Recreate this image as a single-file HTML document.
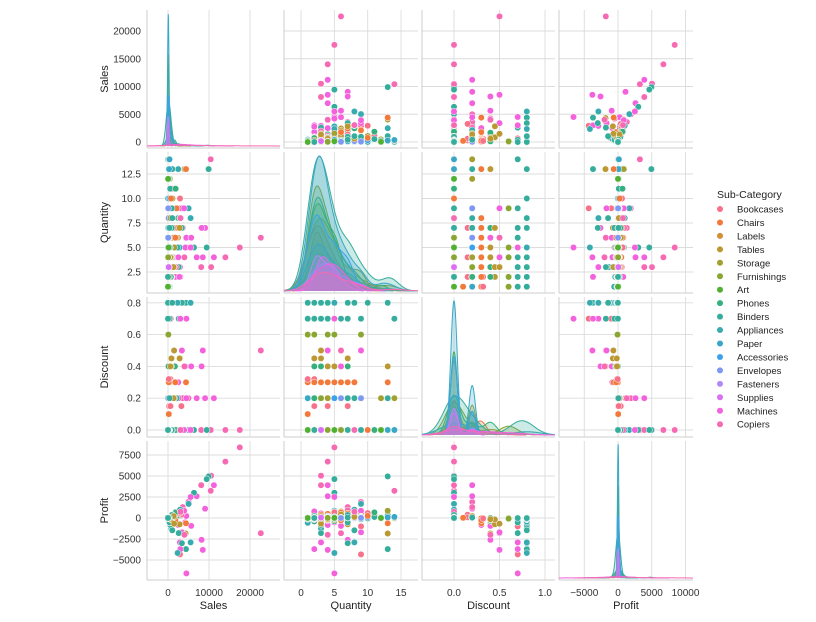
<!DOCTYPE html>
<html><head><meta charset="utf-8"><style>
html,body{margin:0;padding:0;background:#fff;}
svg{display:block;font-family:"Liberation Sans",Arial,sans-serif;}
</style></head><body>
<svg id="s" width="816" height="622" viewBox="0 0 816 622" xmlns="http://www.w3.org/2000/svg"></svg>
<script>
(function(){
var S=document.getElementById('s');var out=[];
function a(x){out.push(x);}
var seed=12345;function R(){seed|=0;seed=seed+0x6D2B79F5|0;var t=Math.imul(seed^seed>>>15,1|seed);t=t+Math.imul(t^t>>>7,61|t)^t;return((t^t>>>14)>>>0)/4294967296;}
var cats=["Bookcases","Chairs","Labels","Tables","Storage","Furnishings","Art","Phones","Binders","Appliances","Paper","Accessories","Envelopes","Fasteners","Supplies","Machines","Copiers"];
var cols=["#f77189","#f3793b","#d58c32","#bb9832","#a39f31","#88a631","#4fb031","#34b07c","#35ad9c","#37abb0","#39a8c6","#3ba3ec","#7f98f4","#b18bf4","#dc6ef4","#f461dd","#f66ab4"];
var counts=[228,617,364,319,846,957,796,889,1523,466,1370,775,254,217,190,115,68];
var price=[[50,500],[50,400],[3,30],[60,500],[10,400],[5,100],[2,40],[20,400],[2,250],[10,600],[5,40],[10,300],[5,50],[1,10],[5,100],[50,1500],[200,1500]];
var disc=[[0,.15,.2,.32,.5,.7],[0,.1,.2,.3],[0,.2],[0,.2,.3,.4,.45,.5],[0,.2],[0,.2,.6],[0,.2],[0,.2,.4],[0,.2,.7,.8],[0,.2,.8],[0,.2],[0,.2],[0,.2],[0,.2],[0,.2],[0,.2,.3,.4,.5,.7],[0,.2,.4]];
var qw=[0,.09,.24,.24,.12,.12,.06,.06,.025,.025,.008,.006,.004,.004,.004];
function rq(){var r=R()*1.01,s=0;for(var i=1;i<15;i++){s+=qw[i];if(r<s)return i;}return 3;}
var D=[];
for(var c=0;c<17;c++){var n=Math.round(counts[c]/14)+6;
 for(var i=0;i<n;i++){var q=rq();var p=Math.exp(Math.log(price[c][0])+R()*Math.log(price[c][1]/price[c][0]));
  var ds=disc[c];var d=R()<0.5?ds[0]:ds[Math.floor(R()*ds.length)];
  var s=p*q;var m;
  if(d==0)m=0.2+0.2*R();else if(d<=0.2)m=0.05+0.15*R();else if(d<0.5)m=-0.05-0.3*R();else if(d<0.65)m=-0.4-0.3*R();else m=-1.2-0.6*R();
  var pf=s*m;if(c==6)pf=pf*0.15;
  D.push([c,s,q,d,pf]);}}
var ex=[[16,22638,6,.5,-1811],[16,17500,5,0,8400],[16,14000,4,0,6720],[15,11200,4,.2,3900],[16,10500,3,0,5040],[8,9900,13,0,4950],[8,9450,5,0,4630],[15,8500,4,.5,-3800],[15,8200,7,.4,-2600],[16,8100,3,0,3900],[15,7000,4,.2,2600],[15,4500,5,.7,-6600],[16,4000,4,.4,-2000],[15,5500,5,0,2500],[8,6350,5,0,3000],[8,4400,13,.8,-3700],[8,3400,7,.8,-3000],[16,5000,9,.2,1900],[15,3400,9,.5,-1700],[16,3600,7,.2,1300],[9,5500,8,.8,-2900],[8,2600,3,.7,-1800],[1,4400,13,.3,-630],[3,4300,13,.4,-1850],[15,2900,3,.7,-2900],[15,3000,2,.7,-3700]];
ex.forEach(function(e){D.push(e);});
for(var i=D.length-1;i>0;i--){var j=Math.floor(R()*(i+1));var t=D[i];D[i]=D[j];D[j]=t;}
var KS=[0.0041,6.67,91,0.00675];
var xm=[function(v){return 168+v*0.0041},function(v){return 301+v*6.67},function(v){return 454+v*91},function(v){return 618+v*0.00675}];
var ym=[function(v){return 142-v*0.00555},function(v){return 296.5-v*9.8},function(v){return 430-v*159},function(v){return 518-v*0.0084}];
var PX=[[147,280],[284,418],[422,555],[559,693]],PY=[[10,148],[152,293],[297,437],[441,580]];
var xt=[[0,10000,20000],[0,5,10,15],[0,.5,1],[-5000,0,5000,10000]];
var xl=[["0","10000","20000"],["0","5","10","15"],["0.0","0.5","1.0"],["\u22125000","0","5000","10000"]];
var yt=[[0,5000,10000,15000,20000],[2.5,5,7.5,10,12.5],[0,.2,.4,.6,.8],[-5000,-2500,0,2500,5000,7500]];
var yl=[["0","5000","10000","15000","20000"],["2.5","5.0","7.5","10.0","12.5"],["0.0","0.2","0.4","0.6","0.8"],["\u22125000","\u22122500","0","2500","5000","7500"]];
var names=["Sales","Quantity","Discount","Profit"];
for(var r=0;r<4;r++)for(var c=0;c<4;c++){
 var x0=PX[c][0],x1=PX[c][1],y0=PY[r][0],y1=PY[r][1];
 a('<clipPath id="c'+r+c+'"><rect x="'+x0+'" y="'+y0+'" width="'+(x1-x0)+'" height="'+(y1-y0)+'"/></clipPath>');
 xt[c].forEach(function(v){var x=xm[c](v);a('<line x1="'+x+'" x2="'+x+'" y1="'+y0+'" y2="'+y1+'" stroke="#dcdcdc" stroke-width="0.9"/>');});
 if(r!=c)yt[r].forEach(function(v){var y=ym[r](v);a('<line x1="'+x0+'" x2="'+x1+'" y1="'+y+'" y2="'+y+'" stroke="#dcdcdc" stroke-width="0.9"/>');});
 a('<line x1="'+x0+'" x2="'+x0+'" y1="'+y0+'" y2="'+y1+'" stroke="#ccc" stroke-width="1"/>');
 a('<line x1="'+x0+'" x2="'+x1+'" y1="'+y1+'" y2="'+y1+'" stroke="#ccc" stroke-width="1"/>');
 if(r!=c){a('<g clip-path="url(#c'+r+c+')">');
  D.forEach(function(d){a('<circle cx="'+xm[c](d[c+1]).toFixed(1)+'" cy="'+ym[r](d[r+1]).toFixed(1)+'" r="3.2" fill="'+cols[d[0]]+'" stroke="#fff" stroke-width="0.5"/>');});
  a('</g>');}
 else{
  var vs=[];for(var k=0;k<17;k++)vs.push([]);D.forEach(function(d){vs[d[0]].push(d[c+1]);});
  var Nt=D.length;var curves=[];var mx=0;
  for(var k=0;k<17;k++){var v=vs[k],n=v.length;var mu=0;v.forEach(function(z){mu+=z});mu/=n;var sd=0;v.forEach(function(z){sd+=(z-mu)*(z-mu)});sd=Math.sqrt(sd/(n-1))||1e-6;
   var bw=Math.max(sd*Math.pow(n,-0.2),0.7/KS[c]);var lo=Math.min.apply(null,v)-3*bw,hi=Math.max.apply(null,v)+3*bw;
   var pts=[];for(var px=x0;px<=x1;px+=0.25){var inv;
    if(c==0)inv=(px-168)/0.0041;else if(c==1)inv=(px-301)/6.67;else if(c==2)inv=(px-454)/91;else inv=(px-618)/0.00675;
    if(inv<lo||inv>hi)continue;var s=0;v.forEach(function(z){var u=(inv-z)/bw;s+=Math.exp(-0.5*u*u);});
    var dens=s/(Nt*bw*2.5066);pts.push([px,dens]);if(dens>mx)mx=dens;}
   curves.push(pts);}
  var base=y1-2,H=(y1-y0)-6;
  for(var k=0;k<17;k++){var pts=curves[k];if(!pts.length)continue;var dstr='';
   pts.forEach(function(p,i){dstr+=(i?'L':'M')+p[0].toFixed(2)+' '+(base-p[1]/mx*H).toFixed(1);});
   a('<path d="'+dstr+'L'+pts[pts.length-1][0]+' '+base+'L'+pts[0][0]+' '+base+'Z" fill="'+cols[k]+'" fill-opacity="0.25" stroke="none"/>');
   a('<path d="'+dstr+'" fill="none" stroke="'+cols[k]+'" stroke-width="1"/>');}
 }
 if(c==0)yt[r].forEach(function(v,i){a('<text x="141" y="'+(ym[r](v)+3.5)+'" font-size="10" fill="#333" text-anchor="end">'+yl[r][i]+'</text>');});
 if(r==3)xt[c].forEach(function(v,i){a('<text x="'+xm[c](v)+'" y="596" font-size="10" fill="#333" text-anchor="middle">'+xl[c][i]+'</text>');});
}
for(var i=0;i<4;i++){var cx=(PX[i][0]+PX[i][1])/2;a('<text x="'+cx+'" y="609" font-size="11" fill="#222" text-anchor="middle">'+names[i]+'</text>');
 var cy=(PY[i][0]+PY[i][1])/2;a('<text transform="translate(108,'+cy+') rotate(-90)" font-size="11" fill="#222" text-anchor="middle">'+names[i]+'</text>');}
a('<text x="717" y="198" font-size="10.5" fill="#222">Sub-Category</text>');
cats.forEach(function(n,i){var y=209+i*13.45;a('<circle cx="720" cy="'+y+'" r="3" fill="'+cols[i]+'"/>');a('<text x="737" y="'+(y+3.5)+'" font-size="9.5" fill="#222">'+n+'</text>');});
S.innerHTML=out.join('');
})();
</script>
</body></html>
